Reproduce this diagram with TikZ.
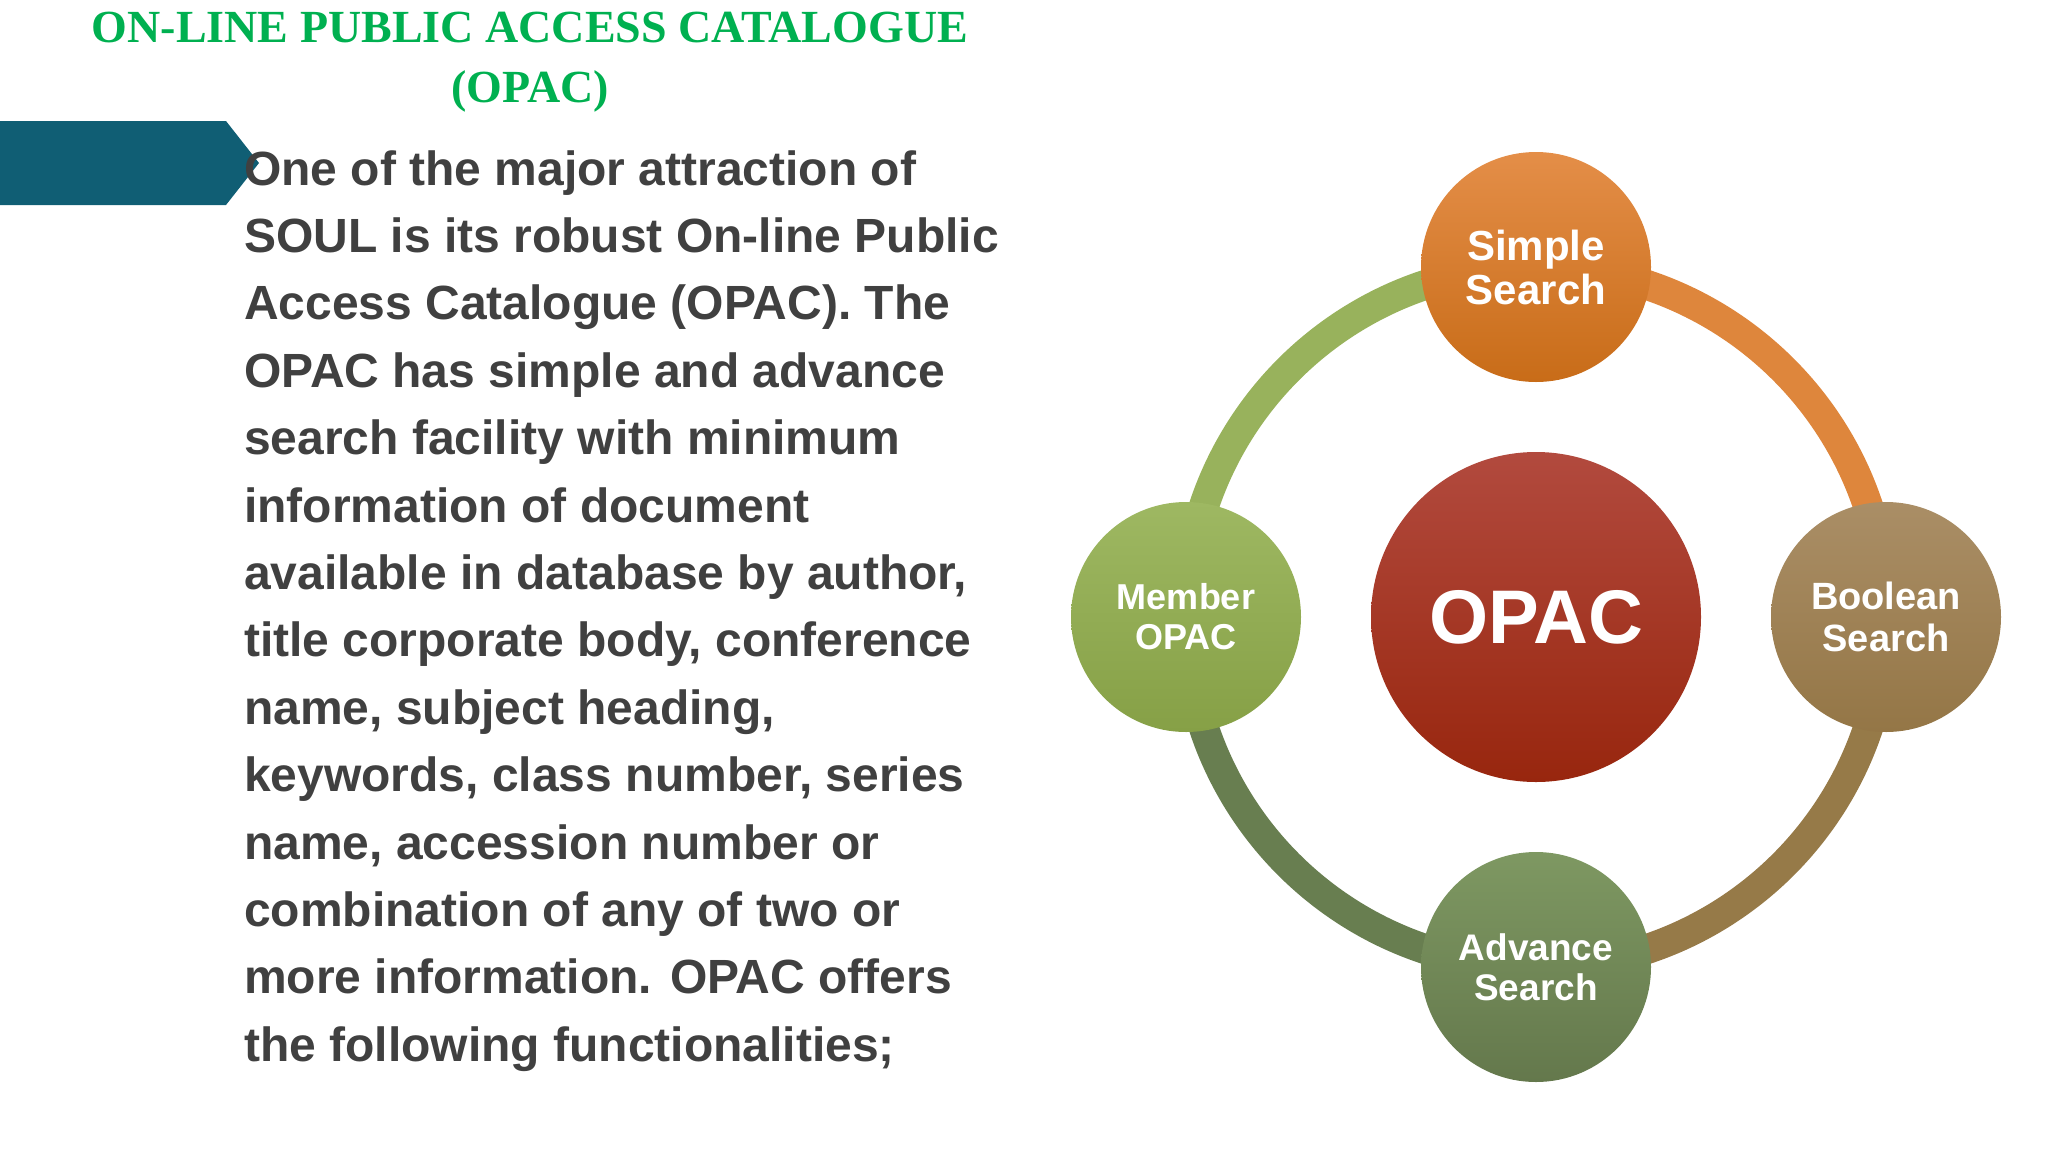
\documentclass[tikz,border=0pt]{standalone}
\usepackage{fontspec}
\setmainfont{Liberation Sans}
\newfontfamily\titlefont{Liberation Serif}
\begin{document}
\begin{tikzpicture}[x=1pt,y=-1pt,
  sm/.style={circle,minimum size=230pt,inner sep=0pt,align=center,text=white,font=\bfseries\fontsize{42}{44}\selectfont},
  body/.style={anchor=base west,inner sep=0pt,text={rgb,255:red,64;green,64;blue,64},font=\bfseries\fontsize{48}{52}\selectfont},
  ring/.style={line width=30pt}]
\useasboundingbox (0,0) rectangle (2048,1152);
\definecolor{tgreen}{RGB}{0,176,80}
\node[text=tgreen,font=\titlefont\bfseries\fontsize{46}{60}\selectfont,align=center] (title) at (530,62) {ON-LINE PUBLIC ACCESS CATALOGUE\\(OPAC)};
\fill[fill={rgb,255:red,16;green,94;blue,116}] (0,121) -- (226,121) -- (259,163) -- (226,205) -- (0,205) -- cycle;
\foreach \t [count=\i from 0] in {{One of the major attraction of},{SOUL is its robust On-line Public},{Access Catalogue (OPAC). The},{OPAC has simple and advance},{search facility with minimum},{information of document},{available in database by author,},{title corporate body, conference},{name, subject heading,},{keywords, class number, series},{name, accession number or},{combination of any of two or},{more information. OPAC offers},{the following functionalities;}}
  {\node[body] (l\i) at (244,185+67.4*\i) {\t};}
\coordinate (c) at (1536,617);
\draw[ring,color={rgb,255:red,152;green,178;blue,92}] (c) ++(-90:350) arc (-90:-180:350);
\draw[ring,color={rgb,255:red,222;green,134;blue,60}] (c) ++(-90:350) arc (-90:0:350);
\draw[ring,color={rgb,255:red,150;green,122;blue,72}] (c) ++(0:350) arc (0:90:350);
\draw[ring,color={rgb,255:red,104;green,126;blue,80}] (c) ++(180:350) arc (180:90:350);
\node[circle,minimum size=330pt,inner sep=0pt,text=white,top color={rgb,255:red,178;green,74;blue,62},bottom color={rgb,255:red,152;green,38;blue,14},font=\bfseries\fontsize{76}{80}\selectfont] (opac) at (c) {OPAC};
\node[sm,top color={rgb,255:red,228;green,142;blue,72},bottom color={rgb,255:red,200;green,108;blue,24}] (simple) at (1536,267) {Simple\\Search};
\node[sm,font=\bfseries\fontsize{38}{42}\selectfont,top color={rgb,255:red,170;green,142;blue,102},bottom color={rgb,255:red,148;green,118;blue,70}] (bool) at (1886,617) {Boolean\\Search};
\node[sm,font=\bfseries\fontsize{37}{40}\selectfont,top color={rgb,255:red,126;green,152;blue,98},bottom color={rgb,255:red,100;green,120;blue,76}] (adv) at (1536,967) {Advance\\Search};
\node[sm,font=\bfseries\fontsize{36}{40}\selectfont,top color={rgb,255:red,158;green,184;blue,98},bottom color={rgb,255:red,134;green,160;blue,70}] (member) at (1186,617) {Member\\OPAC};
\end{tikzpicture}
\end{document}
